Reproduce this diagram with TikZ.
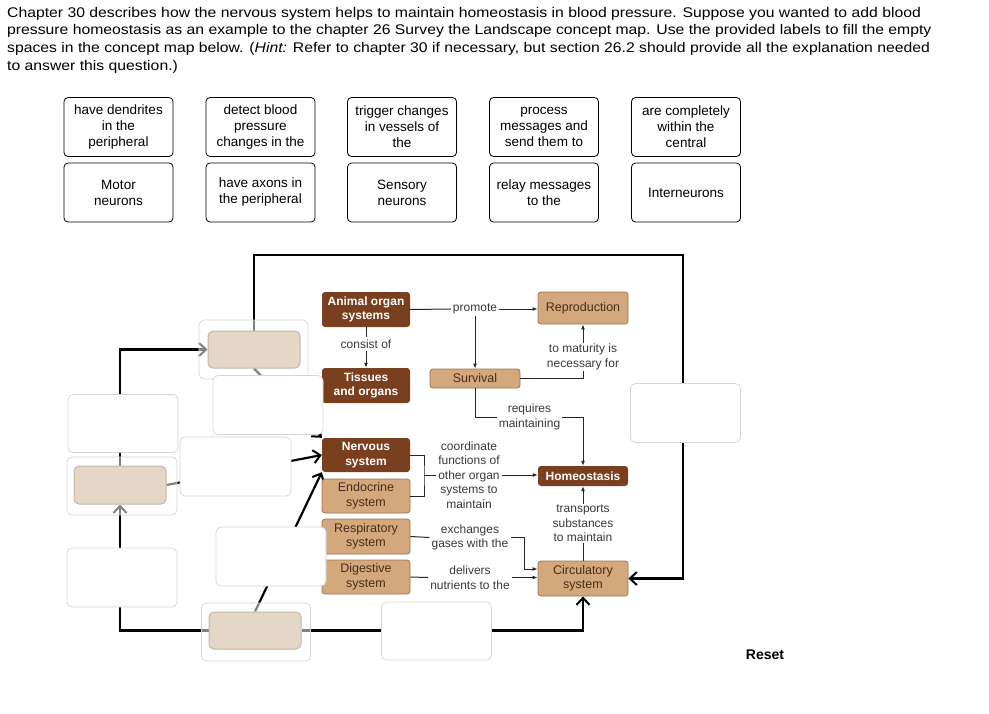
\documentclass[tikz,border=0pt]{standalone}
\usepackage{fontspec}
\setmainfont{Liberation Sans}
\newfontfamily\questionfont[FakeStretch=1.125]{Liberation Sans}
\usetikzlibrary{arrows.meta, positioning, calc, backgrounds}

\definecolor{darkbrown}{HTML}{7A3F1E}
\definecolor{tanfill}{HTML}{D3A87C}
\definecolor{tanline}{HTML}{A2734B}
\definecolor{tantext}{HTML}{4A2C18}
\definecolor{slotfill}{HTML}{E4D7C6}
\definecolor{slotline}{HTML}{C2B6A7}
\definecolor{frameline}{HTML}{D5D5D5}
\definecolor{labeltext}{HTML}{383838}

\begin{document}
\begin{tikzpicture}[x=1pt, y=-1pt,
    choice/.style={draw, line width=0.8pt, rounded corners=4pt, minimum width=109, minimum height=59, inner sep=0pt, align=center, font=\fontsize{13.5}{16}\selectfont},
    frame/.style={draw=frameline, line width=0.7pt, rounded corners=5pt, fill=white, fill opacity=0.5, inner sep=0pt},
    emptyslot/.style={draw=frameline, line width=0.7pt, rounded corners=5pt, fill=white, inner sep=0pt, minimum width=110, minimum height=59},
    filled/.style={draw=slotline, line width=1pt, rounded corners=5pt, fill=slotfill, inner sep=0pt, minimum width=92, minimum height=37},
    darkc/.style={fill=darkbrown, rounded corners=3pt, inner sep=0pt, align=center, text=white, font=\fontsize{12}{14.5}\selectfont\bfseries},
    tanc/.style={fill=tanfill, draw=tanline, line width=0.8pt, rounded corners=3pt, inner sep=0pt, align=center, text=tantext, font=\fontsize{12.5}{14.5}\selectfont},
    lbl/.style={align=center, inner sep=2pt, text=labeltext, font=\fontsize{12}{14.5}\selectfont},
    link/.style={line width=1pt, draw=black!85},
    linkarrow/.style={link, -{Latex[length=5pt,width=4pt]}},
    outline/.style={line width=2.2pt, line join=miter},
    outarrow/.style={outline, -{Straight Barb[length=7pt,width=13pt,line width=2pt]}}
]
\useasboundingbox (0,0) rectangle (989,713);

% Question text
\node[anchor=north west, inner sep=0pt, align=left, font=\questionfont\fontsize{14}{17.6}\selectfont] (question) at (7,7)
{Chapter 30 describes how the nervous system helps to maintain homeostasis in blood pressure. Suppose you wanted to add blood\\
pressure homeostasis as an example to the chapter 26 Survey the Landscape concept map. Use the provided labels to fill the empty\\
spaces in the concept map below. (\textit{Hint:} Refer to chapter 30 if necessary, but section 26.2 should provide all the explanation needed\\
to answer this question.)};

% Label choices
\node[choice] (c1) at (118.5,127) {have dendrites\\in the\\peripheral};
\node[choice] (c2) at (260.5,127) {detect blood\\pressure\\changes in the};
\node[choice] (c3) at (402,127) {trigger changes\\in vessels of\\the};
\node[choice] (c4) at (544,127) {process\\messages and\\send them to};
\node[choice] (c5) at (686,127) {are completely\\within the\\central};
\node[choice] (c6) at (118.5,192.5) {Motor\\neurons};
\node[choice] (c7) at (260.5,192.5) {have axons in\\the peripheral};
\node[choice] (c8) at (402,192.5) {Sensory\\neurons};
\node[choice] (c9) at (544,192.5) {relay messages\\to the};
\node[choice] (c10) at (686,192.5) {Interneurons};

% Concept map
\node[darkc, minimum width=88, minimum height=35] (animal) at (366,309.5) {Animal organ\\systems};
\node[darkc, minimum width=88, minimum height=35] (tissues) at (366,385.5) {Tissues\\and organs};
\node[darkc, minimum width=88, minimum height=34] (nervous) at (366,455) {Nervous\\system};
\node[tanc, minimum width=88, minimum height=34] (endocrine) at (366,496) {Endocrine\\system};
\node[tanc, minimum width=88, minimum height=35] (respiratory) at (366,536.5) {Respiratory\\system};
\node[tanc, minimum width=88, minimum height=34] (digestive) at (366,577) {Digestive\\system};
\node[tanc, minimum width=90, minimum height=32] (reproduction) at (583,308) {Reproduction};
\node[tanc, minimum width=90, minimum height=19] (survival) at (475,378.5) {Survival};
\node[darkc, minimum width=90, minimum height=20] (homeostasis) at (583,476) {Homeostasis};
\node[tanc, minimum width=90, minimum height=35] (circulatory) at (583,578.5) {Circulatory\\system};

\node[lbl] (promote) at (475,309) {promote};
\node[lbl] (consist) at (366,344) {consist of};
\node[lbl, inner sep=1pt] (maturity) at (583,357) {to maturity is\\necessary for};
\node[lbl] (requires) at (529.5,417) {requires\\maintaining};
\node[lbl] (coordinate) at (469,475) {coordinate\\functions of\\other organ\\systems to\\maintain};
\node[lbl] (exchanges) at (470,537.5) {exchanges\\gases with the};
\node[lbl] (delivers) at (470,577.5) {delivers\\nutrients to the};
\node[lbl, inner sep=1pt] (transports) at (583,523.5) {transports\\substances\\to maintain};

\coordinate (brk) at (424,475);
\coordinate (exbend) at (524,569);

\draw[link] (animal.east) -- (promote.west);
\draw[linkarrow] (promote.east) -- (promote.east -| reproduction.west);
\draw[linkarrow] (promote.south) -- (promote.south |- survival.north);
\draw[link] (animal.south) -- (consist.north);
\draw[linkarrow] (consist.south) -- (tissues.north);
\draw[link] (survival.east) -| (maturity.south);
\draw[linkarrow] (maturity.north) -- (reproduction.south);
\draw[link] (survival.south) |- (requires.west);
\draw[linkarrow] (requires.east) -| (homeostasis.north);
\draw[link] (nervous.east) -| (brk) |- (endocrine.east);
\draw[link] (brk) -- (coordinate.west);
\draw[linkarrow] (coordinate.east) -- (coordinate.east -| homeostasis.west);
\draw[link] (respiratory.east) -- (exchanges.west);
\draw[linkarrow] (exchanges.east) -| (exbend) -- (exbend -| circulatory.west);
\draw[link] (digestive.east) -- (delivers.west);
\draw[linkarrow] (delivers.east) -- (delivers.east -| circulatory.west);
\draw[link] (circulatory.north) -- (transports.south);
\draw[linkarrow] (transports.north) -- (homeostasis.south);

% Answer slots
\node[frame, minimum width=109, minimum height=59] (frameA) at (253.5,349.5) {};
\node[filled] (fillA) at (254,349.5) {};
\node[frame, minimum width=110, minimum height=58] (frameB) at (122,486) {};
\node[filled, minimum height=38] (fillB) at (120,485) {};
\node[frame, minimum width=109, minimum height=58] (frameC) at (256,632) {};
\node[filled] (fillC) at (255,630.5) {};

\node[emptyslot] (slotG) at (268,405) {};
\node[emptyslot, minimum height=58] (slotB) at (123,423.5) {};
\node[emptyslot, minimum width=111] (slotC) at (235.5,466.5) {};
\node[emptyslot] (slotD) at (122,577.5) {};
\node[emptyslot] (slotE) at (271,556.5) {};
\node[emptyslot, minimum height=58] (slotF) at (436.5,631) {};
\node[emptyslot] (slotH) at (685.5,413) {};

\coordinate (corner) at (683,255);

\begin{scope}[on background layer]
\draw[outarrow] (fillA.north) |- (corner) |- (circulatory.east);
\draw[outarrow] (fillB.north) |- (fillA.west);
\draw[outarrow] (fillA.south) -- (nervous.north west);
\draw[outarrow] (fillB.east) -- (nervous.west);
\draw[outarrow] (fillC.west) -| (fillB.south);
\draw[outarrow] (fillC.north) -- (nervous.south west);
\draw[outarrow] (fillC.east) -| (circulatory.south);
\end{scope}

\node[font=\fontsize{14}{16}\selectfont\bfseries] (reset) at (765,655) {Reset};
\end{tikzpicture}
\end{document}
